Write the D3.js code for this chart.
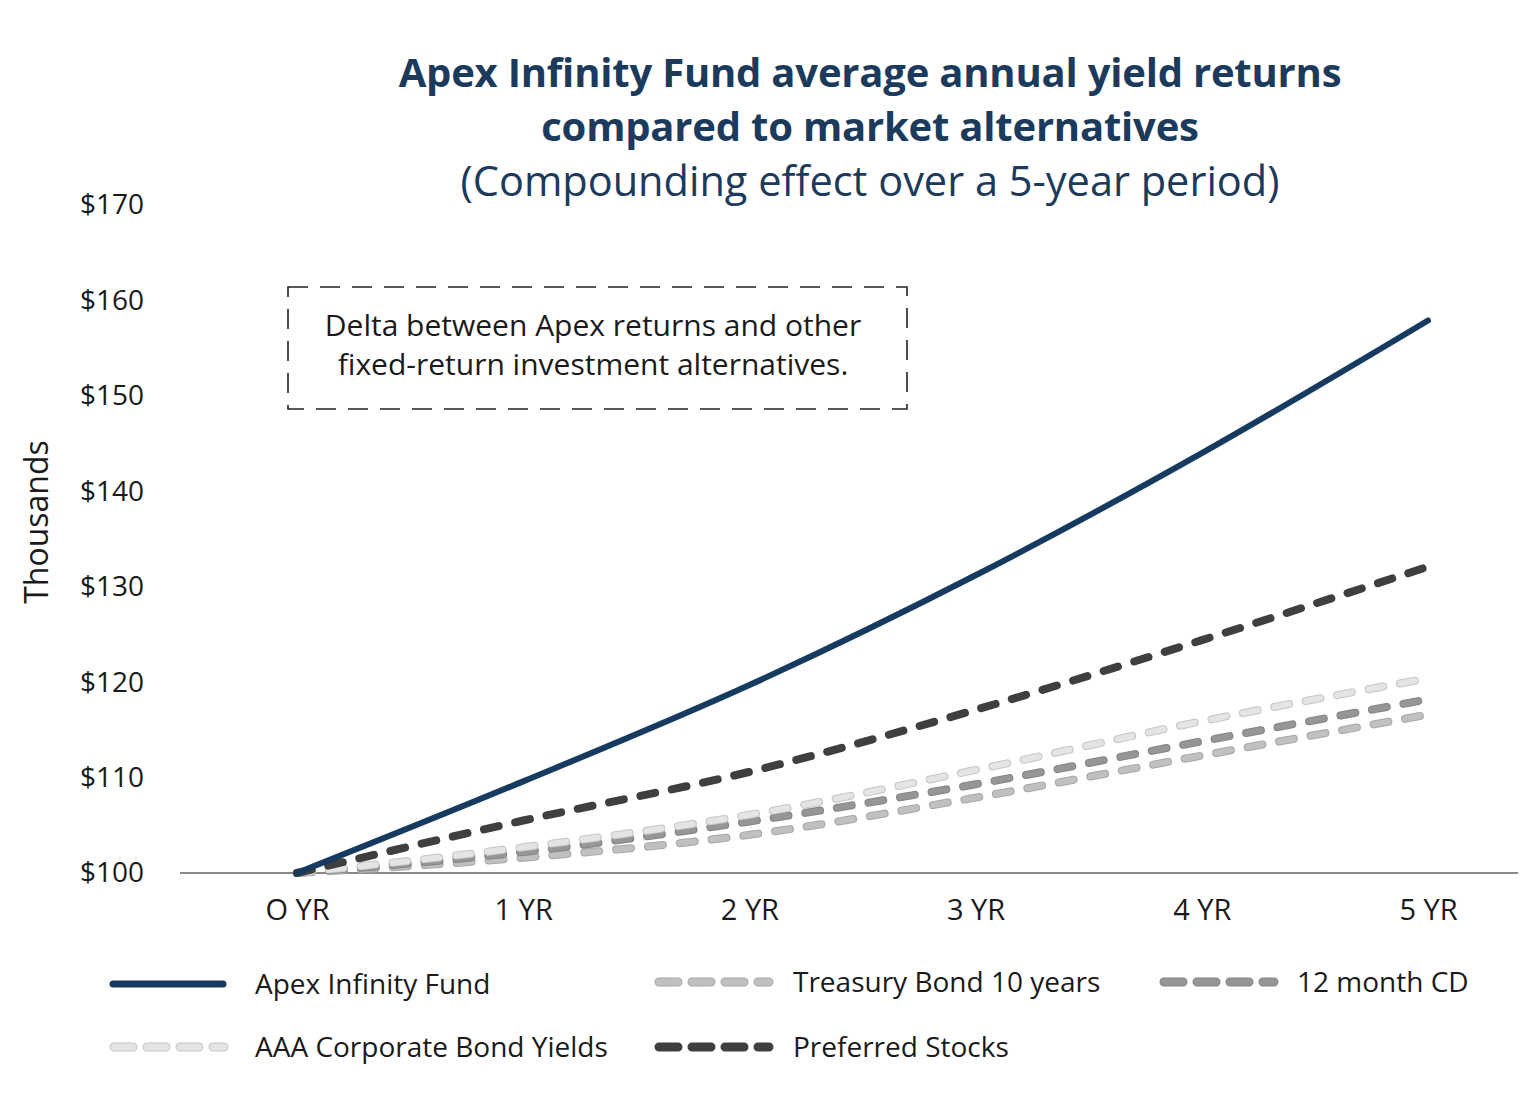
<!DOCTYPE html>
<html>
<head>
<meta charset="utf-8">
<script src="https://cdn.jsdelivr.net/npm/d3@7"></script>
<style>
  body { margin: 0; background: #fff; }
  svg { display: block; font-family: "Open Sans", Lato, sans-serif; }
</style>
</head>
<body>
<svg id="chart"></svg>
<script>
let years = ['O YR', '1 YR', '2 YR', '3 YR', '4 YR', '5 YR']
let yTicks = [100, 110, 120, 130, 140, 150, 160, 170]

// values in thousands of dollars
let apex = [100, 109.6, 119.7, 131.2, 144.0, 157.9]
let preferred = [100, 105.5, 110.6, 117.1, 124.4, 132.1]
let aaa = [100, 102.7, 106.1, 110.8, 115.9, 120.4]
let cd = [100, 102.2, 105.4, 109.3, 113.8, 118.2]
let treasury = [100, 101.6, 104.0, 107.9, 112.3, 116.6]

let width = 1536
let height = 1106
let font = '"Open Sans", Lato, sans-serif'

let svg = d3.select('#chart').attr('width', width).attr('height', height)

let xScale = d3.scalePoint().domain(years).range([297, 1428])
let yScale = d3.scaleLinear().domain([100, 170]).range([873, 205])

// series styles (drawn back to front)
let series = [
    { name: 'Treasury Bond 10 years', values: treasury, color: '#c0c0c0', edge: '#a8a8a8', dash: true },
    { name: '12 month CD', values: cd, color: '#969696', edge: '#858585', dash: true },
    { name: 'AAA Corporate Bond Yields', values: aaa, color: '#e4e4e4', edge: '#c6c6c6', dash: true },
    { name: 'Preferred Stocks', values: preferred, color: '#3f3f3f', edge: '#3f3f3f', dash: true },
    { name: 'Apex Infinity Fund', values: apex, color: '#173b60', edge: '#173b60', dash: false }
]

let line = d3.line()
    .x((d, i) => xScale(years[i]))
    .y((d) => yScale(d))
    .curve(d3.curveMonotoneX)

// title
let title = svg.append('g').attr('text-anchor', 'middle').attr('fill', '#1b3a5c')
title.append('text').attr('x', 870).attr('y', 87).attr('font-size', 40).attr('font-weight', 700)
    .attr('letter-spacing', -0.2)
    .text('Apex Infinity Fund average annual yield returns')
title.append('text').attr('x', 870).attr('y', 141).attr('font-size', 40).attr('font-weight', 700)
    .attr('letter-spacing', -0.2)
    .text('compared to market alternatives')
title.append('text').attr('x', 870).attr('y', 196).attr('font-size', 41.5)
    .text('(Compounding effect over a 5-year period)')

// y axis labels
let yAxis = d3.axisLeft(yScale).tickValues(yTicks).tickSize(0).tickPadding(0)
    .tickFormat((d) => '$' + d)
let gy = svg.append('g').attr('transform', 'translate(144,0)').call(yAxis)
gy.select('.domain').remove()
gy.selectAll('text').attr('font-size', 28).attr('fill', '#1a1a1a').attr('font-family', font)

svg.append('text')
    .attr('transform', 'translate(48,522) rotate(-90)')
    .attr('text-anchor', 'middle')
    .attr('font-size', 32)
    .attr('fill', '#1a1a1a')
    .text('Thousands')

// baseline
svg.append('line')
    .attr('x1', 180).attr('x2', 1518)
    .attr('y1', yScale(100)).attr('y2', yScale(100))
    .attr('stroke', '#8a8a8a').attr('stroke-width', 2)

// x axis labels
let xAxis = d3.axisBottom(xScale).tickSize(0).tickPadding(26)
let gx = svg.append('g').attr('transform', `translate(0, ${yScale(100)})`).call(xAxis)
gx.select('.domain').remove()
gx.selectAll('text').attr('font-size', 29).attr('fill', '#1a1a1a').attr('font-family', font)

// annotation box
svg.append('rect')
    .attr('x', 288).attr('y', 287).attr('width', 619).attr('height', 122)
    .attr('fill', 'none').attr('stroke', '#222').attr('stroke-width', 1.6)
    .attr('stroke-dasharray', '20,12')
let note = svg.append('g').attr('text-anchor', 'middle').attr('fill', '#1a1a1a').attr('font-size', 30)
note.append('text').attr('x', 593).attr('y', 336).text('Delta between Apex returns and other')
note.append('text').attr('x', 593).attr('y', 375).text('fixed-return investment alternatives.')

// lines
series.forEach((s) => {
    if (s.dash) {
        svg.append('path').datum(s.values).attr('d', line)
            .attr('fill', 'none').attr('stroke', s.edge).attr('stroke-width', 8)
            .attr('stroke-linecap', 'round').attr('stroke-dasharray', '15,17')
        svg.append('path').datum(s.values).attr('d', line)
            .attr('fill', 'none').attr('stroke', s.color).attr('stroke-width', 6)
            .attr('stroke-linecap', 'round').attr('stroke-dasharray', '15,17')
    } else {
        svg.append('path').datum(s.values).attr('d', line)
            .attr('fill', 'none').attr('stroke', s.color).attr('stroke-width', 6)
            .attr('stroke-linecap', 'round')
    }
})

// legend: [swatch x, row y, text offset]
let legendPos = {
    'Apex Infinity Fund': [110, 984, 145],
    'Treasury Bond 10 years': [655, 982, 138],
    '12 month CD': [1160, 982, 137],
    'AAA Corporate Bond Yields': [110, 1047, 145],
    'Preferred Stocks': [655, 1047, 138]
}
series.forEach((s) => {
    let p = legendPos[s.name]
    let g = svg.append('g').attr('transform', `translate(${p[0]},${p[1]})`)
    if (s.dash) {
        g.append('line').attr('x1', 4).attr('x2', 114)
            .attr('stroke', s.edge).attr('stroke-width', 9)
            .attr('stroke-linecap', 'round').attr('stroke-dasharray', '19,14')
        g.append('line').attr('x1', 4).attr('x2', 114)
            .attr('stroke', s.color).attr('stroke-width', 7)
            .attr('stroke-linecap', 'round').attr('stroke-dasharray', '19,14')
    } else {
        g.append('line').attr('x1', 3).attr('x2', 113)
            .attr('stroke', s.color).attr('stroke-width', 7)
            .attr('stroke-linecap', 'round')
    }
    g.append('text').attr('x', p[2]).attr('y', 10).attr('font-size', 28)
        .attr('fill', '#1a1a1a').text(s.name)
})
</script>
</body>
</html>
